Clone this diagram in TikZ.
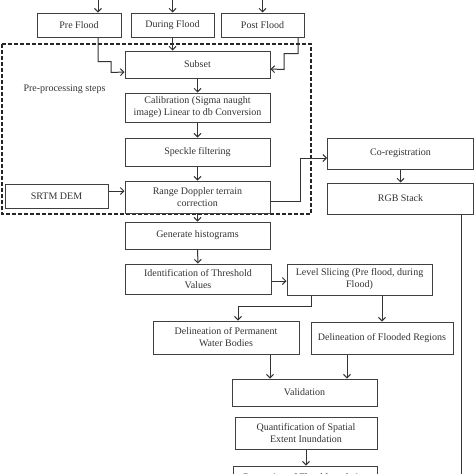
\documentclass[tikz,border=0pt]{standalone}
\usepackage{fontspec}
\setmainfont{Liberation Serif}
\usetikzlibrary{positioning,arrows.meta}

\begin{document}
\begin{tikzpicture}[x=1pt,y=-1pt,>={Straight Barb[length=3.5pt,width=7pt]},
    box/.style={draw=black!75,line width=1pt,align=center,inner sep=1pt,
        text=black!80,font=\fontsize{10}{12}\selectfont},
    arr/.style={->,draw=black!80,line width=1pt},
    dashbox/.style={draw=black!85,dash pattern=on 4pt off 2pt,line width=1.4pt}]
    \clip (0,0) rectangle (474,474);
    \coordinate (top) at (0,0);
    \node[box,minimum width=84pt,minimum height=24pt] (pre) at (79,25) {Pre Flood};
    \node[box,minimum width=83pt,minimum height=24pt] (during) at (172.5,25) {During Flood};
    \node[box,minimum width=83pt,minimum height=24pt] (post) at (262.5,25) {Post Flood};
    \draw[arr] ([xshift=19pt]pre.north |- top) -- ([xshift=19pt]pre.north);
    \draw[arr] (during.north |- top) -- (during.north);
    \draw[arr] (post.north |- top) -- (post.north);

    \draw[dashbox] (2,44) rectangle (311,214);
    \node[text=black!80,font=\fontsize{10}{12}\selectfont] (prelabel) at (64.5,89) {Pre-processing steps};

    \node[box,minimum width=145pt,minimum height=27pt] (subset) at (197.5,64.5) {Subset};
    \node[box,minimum width=145pt,minimum height=29pt] (calib) at (197.5,107.5) {Calibration (Sigma naught\\image) Linear to db Conversion};
    \node[box,minimum width=145pt,minimum height=28pt] (speckle) at (197.5,152) {Speckle filtering};
    \node[box,minimum width=145pt,minimum height=32pt] (range) at (197.5,197) {Range Doppler terrain\\correction};
    \node[box,minimum width=103pt,minimum height=24pt] (srtm) at (56.5,196) {SRTM DEM};
    \node[box,minimum width=146pt,minimum height=31pt] (coreg) at (400.5,153.5) {Co-registration};
    \node[box,minimum width=146pt,minimum height=31pt] (rgb) at (400.5,198.5) {RGB Stack};
    \node[box,minimum width=145pt,minimum height=27pt] (hist) at (197.5,235.5) {Generate histograms};
    \node[box,minimum width=146pt,minimum height=30pt] (ident) at (198,279) {Identification of Threshold\\Values};
    \node[box,minimum width=145pt,minimum height=31pt] (level) at (359.5,279.5) {Level Slicing (Pre flood, during\\Flood)};
    \node[box,minimum width=146pt,minimum height=33pt] (perm) at (226,337.5) {Delineation of Permanent\\Water Bodies};
    \node[box,minimum width=142pt,minimum height=32pt] (flooded) at (382,338) {Delineation of Flooded Regions};
    \node[box,minimum width=145pt,minimum height=27pt] (valid) at (304.5,392.5) {Validation};
    \node[box,minimum width=142pt,minimum height=32pt] (quant) at (306,433) {Quantification of Spatial\\Extent Inundation};
    \node[box,minimum width=144pt,minimum height=36pt] (final) at (305,484) {Generation of Flood Inundation\\Map};

    \draw[arr] ([xshift=19pt]pre.south) -- ++(0,24) -| ++(13,11) -- ([yshift=-7.5pt]subset.west);
    \draw[arr] (during.south) -- (during.south |- subset.north);
    \draw[arr] ([xshift=35.5pt]post.south) -- ++(0,16) -| ++(-14,16) -- ([yshift=-4.5pt]subset.east);
    \draw[arr] (subset.south) -- (calib.north);
    \draw[arr] (calib.south) -- (speckle.north);
    \draw[arr] (speckle.south) -- (range.north);
    \draw[arr] ([yshift=5pt]srtm.east) -- ([yshift=6pt]range.west);
    \draw[arr] ([yshift=-4pt]range.east) -- ++(30,0) |- ([yshift=-4.5pt]coreg.west);
    \draw[arr] (coreg.south) -- (rgb.north);
    \draw[arr] ([xshift=60.5pt]rgb.south) |- (final.east);
    \draw[arr] (range.south) -- (hist.north);
    \draw[arr] (hist.south) -- (ident.north);
    \draw[arr] ([yshift=-2pt]ident.east) -- ([yshift=-1.5pt]level.west);
    \draw[arr] ([xshift=-48.5pt]level.south) -- ++(0,11) -| ([xshift=12pt]perm.north);
    \draw[arr] (flooded.north |- level.south) -- (flooded.north);
    \draw[arr] ([xshift=44pt]perm.south) -- ([xshift=44pt]perm.south |- valid.north);
    \draw[arr] ([xshift=-35pt]flooded.south) -- ([xshift=-35pt]flooded.south |- valid.north);
    \draw[arr] (quant.south) -- (quant.south |- final.north);
\end{tikzpicture}
\end{document}
